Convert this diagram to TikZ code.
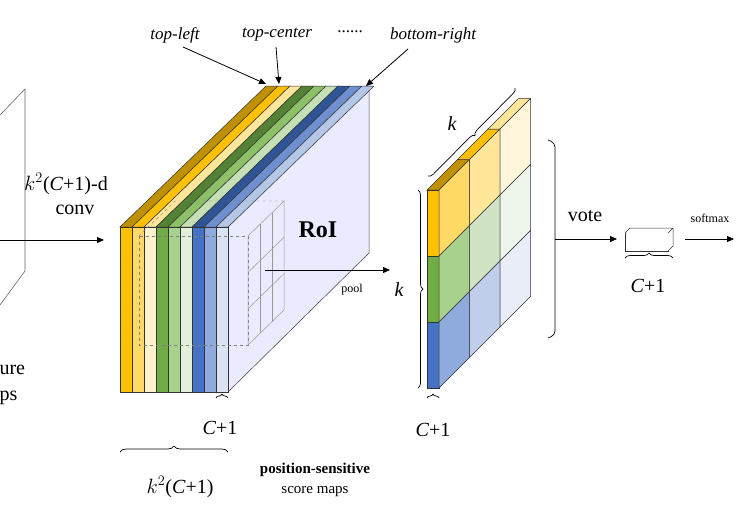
\documentclass[tikz,border=0pt]{standalone}
\usepackage{fontspec}
\setmainfont{Liberation Serif}
\usetikzlibrary{decorations.pathreplacing,arrows.meta}
\begin{document}
\begin{tikzpicture}[x=1pt,y=-1pt,
  edge/.style={draw=black!75,line width=0.5pt},
  arr/.style={-{Triangle[length=7pt,width=6pt]},line width=0.8pt},
  br/.style={decorate,decoration={brace,amplitude=5pt},line width=0.7pt},
  lab/.style={font=\fontsize{20}{22}\selectfont},
  tl/.style={font=\fontsize{17}{19}\selectfont\itshape},
  sm/.style={font=\fontsize{12}{14}\selectfont}]
\useasboundingbox (0,0) rectangle (747,515);
% left feature map
\draw[black!60,line width=0.6pt] (0,115) -- (25,89) -- (25,271) -- (0,305);
\node[lab,anchor=west] (fm1) at (-4,370) {ure};
\node[lab,anchor=west] (fm2) at (-4,398) {ps};
\coordinate (a0) at (0,240);
\coordinate (a1) at (104,240);
\draw[arr] (a0) -- (a1);
\node[lab] (conv1) at (66,184) {$k^2$(\textit{C}+1)-d};
\node[lab] (conv2) at (75,210) {conv};
% main block
\def\dx{146}\def\dy{-141}
\fill[fill=blue!8!white] (228,227) -- (369,86) -- (369,253) -- (228,392) -- cycle;
\draw[edge] (228,227) -- (369,86) -- (369,253) -- (228,392);
\foreach \i/\cf/\ct in {0/FFC000/BF9000,1/FFD966/FFC000,2/FFF2CC/FFE699,3/70AD47/548235,4/A9D18E/8CC168,5/E2F0D9/C5E0B4,6/4472C4/2F5597,7/8FAADC/6F90D0,8/DAE3F3/B4C7E7}{
  \pgfmathsetmacro\xa{120+12*\i}
  \pgfmathsetmacro\xb{132+12*\i}
  \definecolor{cf}{HTML}{\cf}\definecolor{ct}{HTML}{\ct}
  \filldraw[fill=ct,draw=black!80,line width=0.5pt] (\xa,227) -- (\xa+\dx,227+\dy) -- (\xb+\dx,227+\dy) -- (\xb,227) -- cycle;
  \filldraw[fill=cf,draw=black!80,line width=0.5pt] (\xa,227) rectangle (\xb,392);
}
% RoI box
\draw[black!50,dashed,line width=0.4pt] (139,236) rectangle (248,345);
\draw[black!50,dashed,line width=0.4pt] (139,236) -- (175,201) -- (284,201);
\draw[black!40,line width=0.5pt] (248,236) -- (284,201) -- (284,310) -- (248,345) -- cycle;
\foreach \t in {1,2}{
  \draw[black!40,line width=0.5pt] (248+12*\t,236-11.67*\t) -- (248+12*\t,345-11.67*\t);
  \draw[black!40,line width=0.5pt] (248,236+36.33*\t) -- (284,201+36.33*\t);
}
\node[font=\fontsize{24}{26}\selectfont\bfseries] (roi) at (318,230) {RoI};
\coordinate (p0) at (265,270);
\coordinate (p1) at (390,270);
\draw[arr] (p0) -- (p1);
\node[sm] (pool) at (352,290) {pool};
% top labels
\node[tl] (tl1) at (175,35) {top-left};
\node[tl] (tl2) at (277,35) {top-center};
\node[font=\fontsize{17}{19}\selectfont] (dots) at (350,32) {......};
\node[tl] (tl3) at (433,35) {bottom-right};
\coordinate (t1) at (266,84);
\coordinate (t2) at (279,84);
\coordinate (t3) at (366,86);
\draw[arr] (183,47) -- (t1);
\draw[arr] (276,47) -- (t2);
\draw[arr] (408,49) -- (t3);
% braces under main
\draw[br,decoration={amplitude=4pt}] (216,398) -- (228,398);
\node[lab] (c1a) at (220,428) {\textit{C}+1};
\draw[br,decoration={amplitude=6pt}] (120,452) -- (228,452);
\node[lab] (k2c) at (180,487) {$k^2$(\textit{C}+1)};
\node[font=\fontsize{15}{17}\selectfont\bfseries] (ps1) at (315,470) {position-sensitive};
\node[font=\fontsize{15}{17}\selectfont] (ps2) at (315,492) {score maps};
% right block
\foreach \j/\ct in {0/BF9000,1/FFC000,2/FFE699}{
  \definecolor{ct}{HTML}{\ct}
  \filldraw[fill=ct,draw=black!80,line width=0.5pt] (427+30.5*\j,190-30.5*\j) -- (439+30.5*\j,190-30.5*\j) -- (469.5+30.5*\j,159.5-30.5*\j) -- (457.5+30.5*\j,159.5-30.5*\j) -- cycle;
}
\foreach \i/\ca/\cb/\cc/\cf in {0/FFD966/FFE699/FFF6DB/FFC000,1/A9D18E/D0E4C4/EEF5EA/70AD47,2/8FAADC/C0CEEB/E8EDF8/4472C4}{
  \definecolor{cf}{HTML}{\cf}
  \filldraw[fill=cf,draw=black!80,line width=0.5pt] (427,190+66*\i) rectangle (439,256+66*\i);
  \foreach \j/\c in {0/\ca,1/\cb,2/\cc}{
    \definecolor{cc}{HTML}{\c}
    \filldraw[fill=cc,draw=black!80,line width=0.5pt] (439+30.5*\j,190+66*\i-30.5*\j) -- (469.5+30.5*\j,159.5+66*\i-30.5*\j) -- (469.5+30.5*\j,225.5+66*\i-30.5*\j) -- (439+30.5*\j,256+66*\i-30.5*\j) -- cycle;
  }
}
\draw[br] (418,190) -- (418,388);
\node[lab,font=\fontsize{20}{22}\selectfont\itshape] (kl) at (399,290) {k};
\draw[br] (515,88) -- (428,176);
\node[lab,font=\fontsize{20}{22}\selectfont\itshape] (kt) at (452,124) {k};
\draw[br,decoration={amplitude=4pt}] (427,398) -- (439,398);
\node[lab] (c1b) at (433,430) {\textit{C}+1};
\draw[line width=0.7pt,rounded corners=4pt] (548,140) -- (555,143) -- (555,335) -- (548,338);
\coordinate (v0) at (555,239);
\coordinate (v1) at (617,239);
\draw[arr] (v0) -- (v1);
\node[lab] (vote) at (585,216) {vote};
% small box
\draw[black!80,line width=0.5pt,fill=white] (625,233) rectangle (668,251);
\draw[black!80,line width=0.5pt,fill=white] (625,233) -- (630,228) -- (673,228) -- (673,246) -- (668,251) (668,233) -- (673,228);
\draw[br,decoration={amplitude=5pt}] (625,258) -- (673,258);
\node[lab] (c1c) at (648,286) {\textit{C}+1};
\coordinate (s0) at (685,239);
\coordinate (s1) at (734,239);
\draw[arr] (s0) -- (s1);
\node[sm] (soft) at (710,218) {softmax};
\end{tikzpicture}
\end{document}
